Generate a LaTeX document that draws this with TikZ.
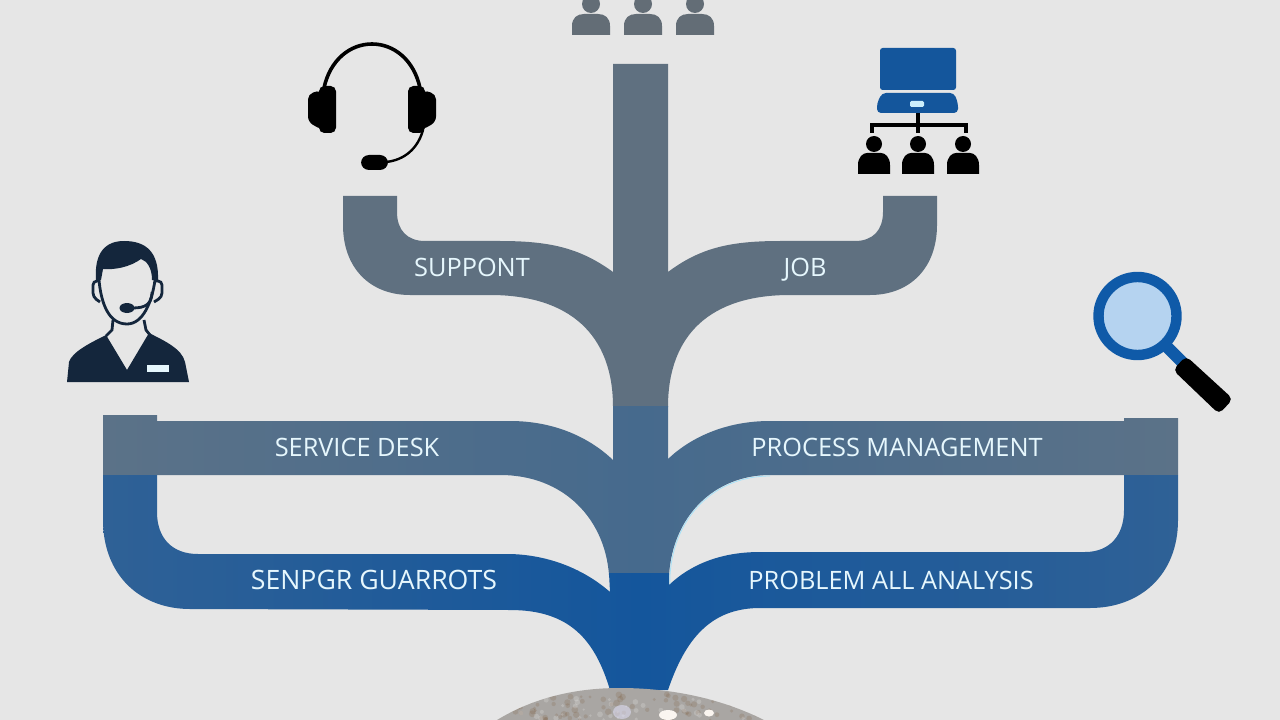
\documentclass[tikz,border=0pt]{standalone}
\usepackage{fontspec}
\setmainfont{Open Sans}
\definecolor{bgcol}{HTML}{E6E6E6}
\definecolor{slatecol}{HTML}{5F7080}
\definecolor{midcol}{HTML}{466A8D}
\definecolor{edgecol}{HTML}{5B7288}
\definecolor{bluecol}{HTML}{14569C}
\definecolor{endcol}{HTML}{2F6196}
\definecolor{navycol}{HTML}{14263C}
\definecolor{iconcol}{HTML}{636D76}
\definecolor{rockcol}{HTML}{A9A6A3}
\definecolor{ringcol}{HTML}{0F5AA8}
\definecolor{lenscol}{HTML}{B5D3F0}
\tikzset{
  lab/.style={text=white!90!cyan,font=\fontsize{19}{21}\selectfont,inner sep=0pt,anchor=base},
  headsetpart/.style={fill=black,rounded corners=4pt},
  thinline/.style={draw=black,line width=2.3pt},
  agentline/.style={draw=navycol,line width=2.1pt},
}
\newcommand{\personicon}[5]{% x, head y, head r, half width, colour
  \fill[#5] (#1,#2) circle (#3);
  \fill[#5] (#1-#4,#2+#3+22)--(#1-#4,#2+#3+13) .. controls (#1-#4,#2+#3+5) and (#1-#4+5,#2+#3+1) .. (#1-7,#2+#3+1)
    --(#1+7,#2+#3+1) .. controls (#1+#4-5,#2+#3+1) and (#1+#4,#2+#3+5) .. (#1+#4,#2+#3+13)--(#1+#4,#2+#3+22)--cycle;
}
\begin{document}
\begin{tikzpicture}[x=.75pt,y=-.75pt]
\useasboundingbox (0,0) rectangle (1280,720);
\fill[bgcol] (0,0) rectangle (1280,720);

% top tree
\fill[slatecol] (613,64)--(668,64)--(668,272) .. controls (700,248) and (730,241) .. (780,241)
  --(855,241) .. controls (873,241) and (883,230) .. (883,212)--(883,196)--(937,196)--(937,225)
  .. controls (937,268) and (910,295) .. (870,295)--(790,295)
  .. controls (710,295) and (668,335) .. (668,407)--(613,407)
  .. controls (613,335) and (570,295) .. (490,295)--(410,295)
  .. controls (370,295) and (343,268) .. (343,225)--(343,196)--(397,196)--(397,212)
  .. controls (397,230) and (407,241) .. (425,241)--(500,241)
  .. controls (550,241) and (580,248) .. (613,272)--cycle;

% middle tree
\shade[left color=edgecol,right color=edgecol,middle color=midcol]
  (613,406)--(668,406)--(668,459) .. controls (690,438) and (725,421) .. (770,421)--(1124,421)--(1124,418)--(1178,418)
  --(1178,475)--(770,475) .. controls (715,475) and (673,515) .. (669,575)--(609,575)
  .. controls (605,520) and (565,475) .. (500,475)--(103,475)--(103,415)--(157,415)--(157,421)--(510,421)
  .. controls (555,421) and (590,438) .. (613,460)--cycle;

% lower tree
\shade[left color=endcol,right color=endcol,middle color=bluecol]
  (609,573)--(669,573)--(669,585) .. controls (690,565) and (720,552) .. (760,552)--(1085,552)
  .. controls (1110,552) and (1124,535) .. (1124,510)--(1124,475)--(1178,475)--(1178,520)
  .. controls (1178,575) and (1140,608) .. (1090,608)--(760,608)
  .. controls (710,608) and (685,640) .. (668,690)--(610,690)
  .. controls (595,640) and (570,610) .. (510,610)--(190,609)
  .. controls (140,609) and (103,575) .. (103,520)--(103,475)--(157,475)--(157,512)
  .. controls (157,538) and (172,554) .. (198,554)--(510,554)
  .. controls (550,555) and (585,570) .. (610,592)--cycle;
\draw[cyan!35,line width=.6pt] (670,584)--(670,575) .. controls (674,515) and (716,476) .. (770,476);

% rock
\begin{scope}
\clip (497,720) .. controls (530,700) and (570,688) .. (620,688) .. controls (670,688) and (720,698) .. (764,720)--cycle;
\fill[rockcol] (480,680) rectangle (780,720);
\pgfmathsetseed{7}
\foreach \i in {1,...,90}{
  \pgfmathsetmacro{\rx}{500+rnd*260}
  \pgfmathsetmacro{\ry}{694+rnd*26}
  \fill[brown!60!black,opacity=.16] (\rx,\ry) circle (1.5+rnd*2);
}
\foreach \i in {1,...,40}{
  \pgfmathsetmacro{\rx}{510+rnd*240}
  \pgfmathsetmacro{\ry}{698+rnd*22}
  \fill[white,opacity=.18] (\rx,\ry) circle (1+rnd*2);
}
\fill[blue!10!white,opacity=.5] (622,712) ellipse (9 and 7);
\fill[white!92!brown] (668,715) ellipse (9 and 5);
\fill[white!92!brown] (709,713) ellipse (5 and 3.5);
\end{scope}

% labels
\node[lab] (support) at (472,276) {SUPPONT};
\node[lab] (job) at (805,276) {JOB};
\node[lab] (desk) at (357,456) {SERVICE DESK};
\node[lab] (process) at (897,456) {PROCESS MANAGEMENT};
\node[lab,font=\fontsize{20}{22}\selectfont] (senior) at (374,589) {SENPGR GUARROTS};
\node[lab] (problem) at (891,589) {PROBLEM ALL ANALYSIS};

% people on top
\foreach \px in {591,643,695}{
  \personicon{\px}{4}{9}{19}{iconcol}
}

% laptop with team
\fill[bluecol,rounded corners=2pt] (880,48) rectangle (956,90);
\fill[bluecol,rounded corners=3pt] (882,93)--(954,93)--(958,103)--(958,113)--(877,113)--(877,103)--cycle;
\fill[white!80!cyan,rounded corners=1pt] (910,101) rectangle (924,107);
\draw[thinline] (918,113)--(918,133);
\draw[thinline] (872,133)--(872,125)--(966,125)--(966,133);
\foreach \px in {874,918,963}{
  \personicon{\px}{144}{8}{16}{black}
}

% headset
\draw[black,line width=2.7pt] (324,88) .. controls (330,60) and (350,44) .. (372,44) .. controls (394,44) and (414,60) .. (420,88);
\fill[headsetpart] (319,86) rectangle (336,133);
\fill[headsetpart] (308,94)--(322,90)--(322,130)--(308,122)--cycle;
\fill[headsetpart] (408,86) rectangle (425,133);
\fill[headsetpart] (422,90)--(436,94)--(436,122)--(422,130)--cycle;
\draw[black,line width=1.8pt] (423,130) .. controls (418,148) and (405,160) .. (386,162);
\fill[black,rounded corners=6pt] (361,155) rectangle (388,170);

% agent
\fill[navycol] (96,280) .. controls (94,252) and (106,241) .. (124,241) .. controls (146,241) and (159,252) .. (158,280)
  --(152,280) .. controls (152,268) and (147,261) .. (141,259) .. controls (130,267) and (115,270) .. (103,269)--(101,280)--cycle;
\draw[agentline] (99,280) .. controls (101,302) and (108,324) .. (127,324) .. controls (143,324) and (152,302) .. (155,280);
\draw[agentline,rounded corners=3pt] (98,281)--(93,281)--(93,297)--(100,302);
\draw[agentline,rounded corners=3pt] (156,281)--(162,281)--(162,297)--(154,302);
\draw[agentline] (113,320)--(112,330)--(106,336);
\draw[agentline] (144,320)--(146,330)--(150,335);
\fill[navycol] (67,382)--(69,362) .. controls (72,352) and (90,343) .. (106,335)--(127,370)--(149,333)
  .. controls (165,341) and (182,349) .. (185,362)--(189,382)--cycle;
\fill[white!90!cyan] (147,365) rectangle (169,372);
\fill[navycol] (127,308) ellipse (7.5 and 5);
\draw[agentline] (130,308) .. controls (140,308) and (152,308) .. (152,292);

% magnifier
\draw[ringcol,line width=9pt] (1166,346)--(1184,364);
\fill[black,rounded corners=4pt] (1173,370)--(1186,356)--(1233,399)--(1219,414)--cycle;
\draw[ringcol,line width=7.8pt,fill=lenscol] (1137.5,316) circle (39);
\end{tikzpicture}
\end{document}
